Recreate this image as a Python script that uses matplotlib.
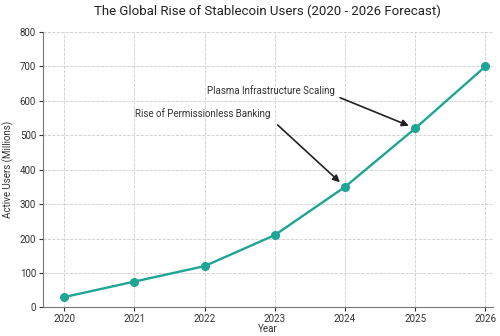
import matplotlib
matplotlib.use("Agg")
from matplotlib import pyplot as plt

plt.rcParams['font.family'] = ['Roboto', 'DejaVu Sans']

years = [2020, 2021, 2022, 2023, 2024, 2025, 2026]
users = [30, 75, 120, 210, 350, 520, 700]
yticks = [0, 100, 200, 300, 400, 500, 600, 700, 800]

fig, ax = plt.subplots(figsize=(5, 3.36), dpi=100)
fig.subplots_adjust(left=0.086, right=0.985, top=0.905, bottom=0.085)

ax.plot(years, users, color='#1fa595', linewidth=1.7, marker='o', markersize=5.5)

ax.set_xlim(2019.7, 2026.1)
ax.set_ylim(0, 800)
ax.set_xticks(years)
ax.set_yticks(yticks)
ax.tick_params(labelsize=7, colors='#333333', length=3, pad=2)
ax.grid(True, linestyle='--', color='#cccccc', linewidth=0.6)
ax.spines['top'].set_visible(False)
ax.spines['right'].set_visible(False)
ax.spines['left'].set_color('#777777')
ax.spines['bottom'].set_color('#777777')

ax.set_title('The Global Rise of Stablecoin Users (2020 - 2026 Forecast)', fontsize=9.5, color='#222222', pad=12)
ax.set_xlabel('Year', fontsize=7, color='#333333', labelpad=0)
ax.set_ylabel('Active Users (Millions)', fontsize=7, color='#333333', labelpad=4)

# annotation texts
ax.text(2021.97, 562, 'Rise of Permissionless Banking', fontsize=7, color='#333333', ha='center', va='center')
ax.text(2022.94, 629, 'Plasma Infrastructure Scaling', fontsize=7, color='#333333', ha='center', va='center')

# arrows
arrow = dict(arrowstyle='-|>', color='#222222', lw=1.2, shrinkA=0, shrinkB=5)
ax.annotate('', xy=(2024, 350), xytext=(2023.04, 530), arrowprops=arrow)
ax.annotate('', xy=(2025, 520), xytext=(2023.93, 609), arrowprops=arrow)

plt.savefig('out.png', format='png')
